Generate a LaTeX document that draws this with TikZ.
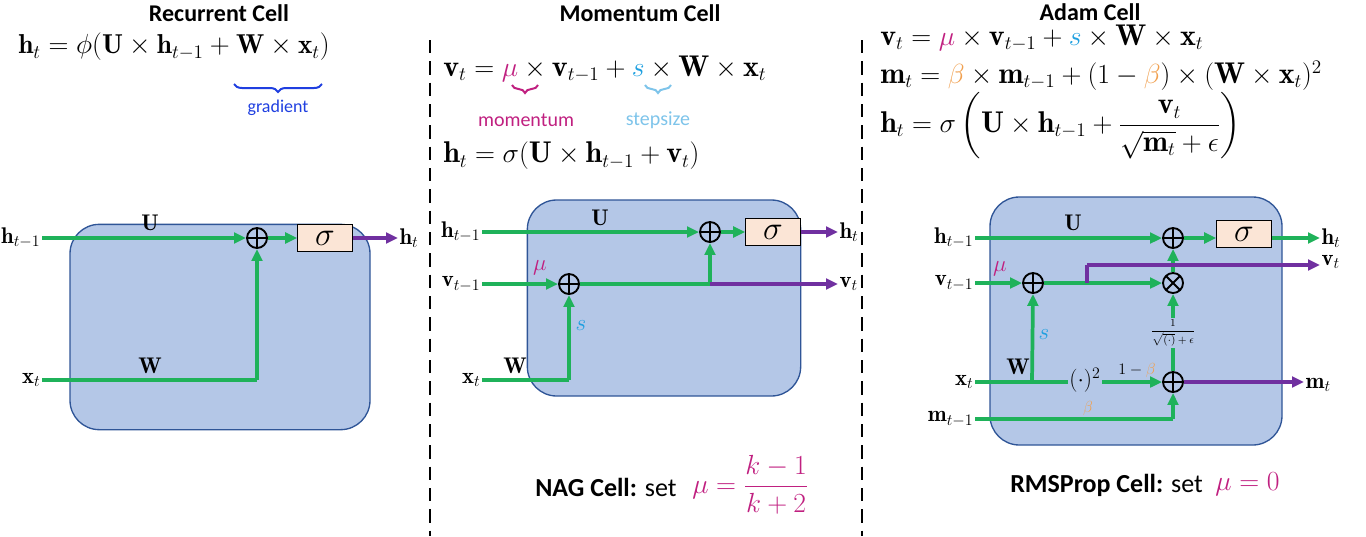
\documentclass[tikz,border=0pt]{standalone}
\usepackage{fontspec}
\usepackage{amsmath}
\newfontfamily\sansf{Carlito}
\usetikzlibrary{arrows.meta,decorations.pathreplacing,calc}
\definecolor{gr}{HTML}{1FB25A}
\definecolor{pu}{HTML}{7030A0}
\definecolor{mg}{HTML}{C02080}
\definecolor{sb}{HTML}{1FA0E0}
\definecolor{lb}{HTML}{7EC4EA}
\definecolor{org}{HTML}{F0A050}
\definecolor{gb}{HTML}{1F3FE0}
\definecolor{boxf}{HTML}{B4C7E7}
\definecolor{boxd}{HTML}{2F5597}
\definecolor{sigf}{HTML}{FBE5D6}
\begin{document}
\begin{tikzpicture}[x=0.75pt,y=-0.75pt,
 cell/.style={draw=boxd,line width=1pt,fill=boxf,rounded corners=22pt},
 g/.style={draw=gr,line width=2.8pt},
 ga/.style={g,-{Triangle[length=9pt,width=8pt]}},
 pa/.style={draw=pu,line width=2.8pt,-{Triangle[length=9pt,width=8pt]}},
 op/.style={circle,draw=black,line width=1.4pt,minimum size=15pt,inner sep=0pt,
   path picture={\draw[line width=1.4pt] (path picture bounding box.north) -- (path picture bounding box.south) (path picture bounding box.west) -- (path picture bounding box.east);}},
 ot/.style={circle,draw=black,line width=1.4pt,minimum size=15pt,inner sep=0pt,
   path picture={\draw[line width=1.4pt] (path picture bounding box.north west) -- (path picture bounding box.south east) (path picture bounding box.south west) -- (path picture bounding box.north east);}},
 sig/.style={draw=black,fill=sigf,line width=0.8pt,minimum width=41pt,minimum height=20pt,font=\fontsize{24}{24}\selectfont},
 lab/.style={font=\fontsize{17}{20}\selectfont,inner sep=1pt},
 eq/.style={anchor=west,font=\fontsize{22.5}{26}\selectfont,inner sep=0pt},
 ttl/.style={font=\sansf\bfseries\fontsize{18}{20}\selectfont,inner sep=1pt},
 brc/.style={decorate,decoration={brace,mirror,amplitude=6pt},line width=1.5pt}
]
\useasboundingbox (0,0) rectangle (1366,536);
% titles & dividers
\node[ttl] (t1) at (219,13) {Recurrent Cell};
\node[ttl] (t2) at (640,13) {Momentum Cell};
\node[ttl] (t3) at (1090,12) {Adam Cell};
\draw[line width=1.3pt,dash pattern=on 10pt off 6pt] (430,40) -- (430,536);
\draw[line width=1.3pt,dash pattern=on 10pt off 6pt] (862,40) -- (862,536);

% ---------- Panel 1 ----------
\node[eq,font=\fontsize{20.5}{24}\selectfont] (e1) at (18,47) {$\mathbf{h}_t=\phi(\mathbf{U}\times\mathbf{h}_{t-1}+\mathbf{W}\times\mathbf{x}_t)$};
\draw[brc,gb] (234,84) -- (322,84);
\node[font=\sansf\fontsize{13.5}{15}\selectfont,text=gb] (gd) at (278,108) {gradient};
\node[cell,minimum width=225pt,minimum height=154pt] (c1) at (220,327) {};
\node[lab,anchor=east] (h1) at (42,238) {$\mathbf{h}_{t-1}$};
\node[lab,anchor=east] (x1) at (42,380) {$\mathbf{x}_t$};
\node[op] (p1) at (257,238) {};
\node[sig] (s1) at (325,238) {$\sigma$};
\node[lab,anchor=west] (ht1) at (398,238) {$\mathbf{h}_t$};
\coordinate (c1a) at (257,380);
\draw[ga] (h1.east) -- (p1.west);
\draw[ga] (p1.east) -- (s1.west);
\draw[pa] (s1.east) -- (ht1.west);
\draw[g] (x1.east) -- (c1a);
\draw[ga] (c1a) -- (p1.south);
\node[lab] at (150,223) {$\mathbf{U}$};
\node[lab] at (150,366) {$\mathbf{W}$};

% ---------- Panel 2 ----------
\node[eq] (e2) at (443,69) {$\mathbf{v}_t=\textcolor{mg}{\mu}\times\mathbf{v}_{t-1}+\textcolor{sb}{s}\times\mathbf{W}\times\mathbf{x}_t$};
\draw[brc,mg] (512,85) -- (538,85);
\node[font=\sansf\fontsize{15}{17}\selectfont,text=mg] (mo) at (526,120) {momentum};
\draw[brc,lb] (645,85) -- (671,85);
\node[font=\sansf\fontsize{15}{17}\selectfont,text=lb] (st) at (658,120) {stepsize};
\node[eq] (e3) at (443,156) {$\mathbf{h}_t=\sigma(\mathbf{U}\times\mathbf{h}_{t-1}+\mathbf{v}_t)$};
\node[cell,minimum width=205pt,minimum height=147pt] (c2) at (664,298) {};
\node[lab,anchor=east] (h2) at (482,232) {$\mathbf{h}_{t-1}$};
\node[lab,anchor=east] (v2) at (482,284) {$\mathbf{v}_{t-1}$};
\node[lab,anchor=east] (x2) at (482,380) {$\mathbf{x}_t$};
\node[op] (p2a) at (569,284) {};
\node[op] (p2b) at (710,232) {};
\node[sig] (s2) at (773,232) {$\sigma$};
\node[lab,anchor=west] (ht2) at (838,232) {$\mathbf{h}_t$};
\node[lab,anchor=west] (vt2) at (838,284) {$\mathbf{v}_t$};
\coordinate (b2) at (710,284);
\coordinate (x2c) at (569,380);
\draw[ga] (h2.east) -- (p2b.west);
\draw[ga] (p2b.east) -- (s2.west);
\draw[pa] (s2.east) -- (ht2.west);
\draw[ga] (v2.east) -- (p2a.west);
\draw[g] (p2a.east) -- (b2);
\draw[ga] (b2) -- (p2b.south);
\draw[pa] (b2) -- (vt2.west);
\draw[g] (x2.east) -- (x2c);
\draw[ga] (x2c) -- (p2a.south);
\node[lab] at (600,218) {$\mathbf{U}$};
\node[lab] at (515,366) {$\mathbf{W}$};
\node[lab,text=mg] at (540,268) {$\mu$};
\node[lab,text=sb] at (581,326) {$s$};
\node[anchor=west,inner sep=0pt] (nag) at (535,487) {\sansf\fontsize{19.5}{22}\selectfont\textbf{NAG Cell:} set};
\node[anchor=west,text=mg,font=\fontsize{22}{26}\selectfont,inner sep=0pt] (nagm) at (692,485) {$\mu=\dfrac{k-1}{k+2}$};

% ---------- Panel 3 ----------
\node[eq] (e4) at (880,38) {$\mathbf{v}_t=\textcolor{mg}{\mu}\times\mathbf{v}_{t-1}+\textcolor{sb}{s}\times\mathbf{W}\times\mathbf{x}_t$};
\node[eq] (e5) at (880,76) {$\mathbf{m}_t=\textcolor{org}{\beta}\times\mathbf{m}_{t-1}+(1-\textcolor{org}{\beta})\times(\mathbf{W}\times\mathbf{x}_t)^2$};
\node[eq] (e6) at (880,126) {$\mathbf{h}_t=\sigma\left(\mathbf{U}\times\mathbf{h}_{t-1}+\dfrac{\mathbf{v}_t}{\sqrt{\mathbf{m}_t}+\epsilon}\right)$};
\node[cell,minimum width=219pt,minimum height=186pt] (c3) at (1136,321) {};
\node[lab,anchor=east] (h3) at (975,238) {$\mathbf{h}_{t-1}$};
\node[lab,anchor=east] (v3) at (975,283) {$\mathbf{v}_{t-1}$};
\node[lab,anchor=east] (x3) at (975,382) {$\mathbf{x}_t$};
\node[lab,anchor=east] (m3) at (975,419) {$\mathbf{m}_{t-1}$};
\node[op] (p3a) at (1033,283) {};
\node[op] (p3b) at (1173,238) {};
\node[ot] (o3) at (1173,283) {};
\node[op] (p3c) at (1173,382) {};
\node[sig] (s3) at (1244,234) {$\sigma$};
\node[lab,anchor=west] (ht3) at (1320,238) {$\mathbf{h}_t$};
\node[lab,anchor=west] (vt3) at (1320,262) {$\mathbf{v}_t$};
\node[lab,anchor=west] (mt3) at (1304,385) {$\mathbf{m}_t$};
\node[font=\fontsize{18}{20}\selectfont,inner sep=1pt] (sq) at (1085,380) {$(\cdot)^2$};
\node[font=\fontsize{8.5}{10}\selectfont,inner sep=1pt] (fr) at (1173,333) {$\dfrac{1}{\sqrt{(\cdot)}+\epsilon}$};
\coordinate (bv) at (1087,283);
\coordinate (bvu) at (1087,265);
\coordinate (bx) at (1032,382);
\coordinate (bm) at (1173,419);
\draw[ga] (h3.east) -- (p3b.west);
\draw[ga] (p3b.east) -- (s3.west |- p3b);
\draw[ga] (s3.east |- p3b) -- (ht3.west);
\draw[ga] (v3.east) -- (p3a.west);
\draw[ga] (p3a.east) -- (o3.west);
\draw[ga] (o3.north) -- (p3b.south);
\draw[draw=pu,line width=2.8pt] (bv) -- (bvu);
\draw[pa] (bvu) -- (vt3.west |- bvu);
\draw[g] (x3.east) -- (sq.west |- x3.east);
\draw[ga] (bx) -- (p3a.south);
\draw[ga] (sq.east |- p3c) -- (p3c.west);
\draw[g] (p3c.north) -- (fr.south);
\draw[ga] (fr.north) -- (o3.south);
\draw[pa] (p3c.east) -- (mt3.west |- p3c);
\draw[g] (m3.east) -- (bm);
\draw[ga] (bm) -- (p3c.south);
\node[lab] at (1073,223) {$\mathbf{U}$};
\node[lab] at (1018,367) {$\mathbf{W}$};
\node[lab,text=mg] at (1000,269) {$\mu$};
\node[lab,text=sb] at (1044,335) {$s$};
\node[font=\fontsize{12}{14}\selectfont] at (1137,370) {$1-\textcolor{org}{\beta}$};
\node[font=\fontsize{12}{14}\selectfont,text=org] at (1088,408) {$\beta$};
\node[anchor=west,inner sep=0pt] (rms) at (1010,485) {\sansf\fontsize{19.5}{22}\selectfont\textbf{RMSProp Cell:} set};
\node[anchor=west,text=mg,font=\fontsize{22}{26}\selectfont,inner sep=0pt] (rmsm) at (1215,484) {$\mu=0$};
\end{tikzpicture}
\end{document}
